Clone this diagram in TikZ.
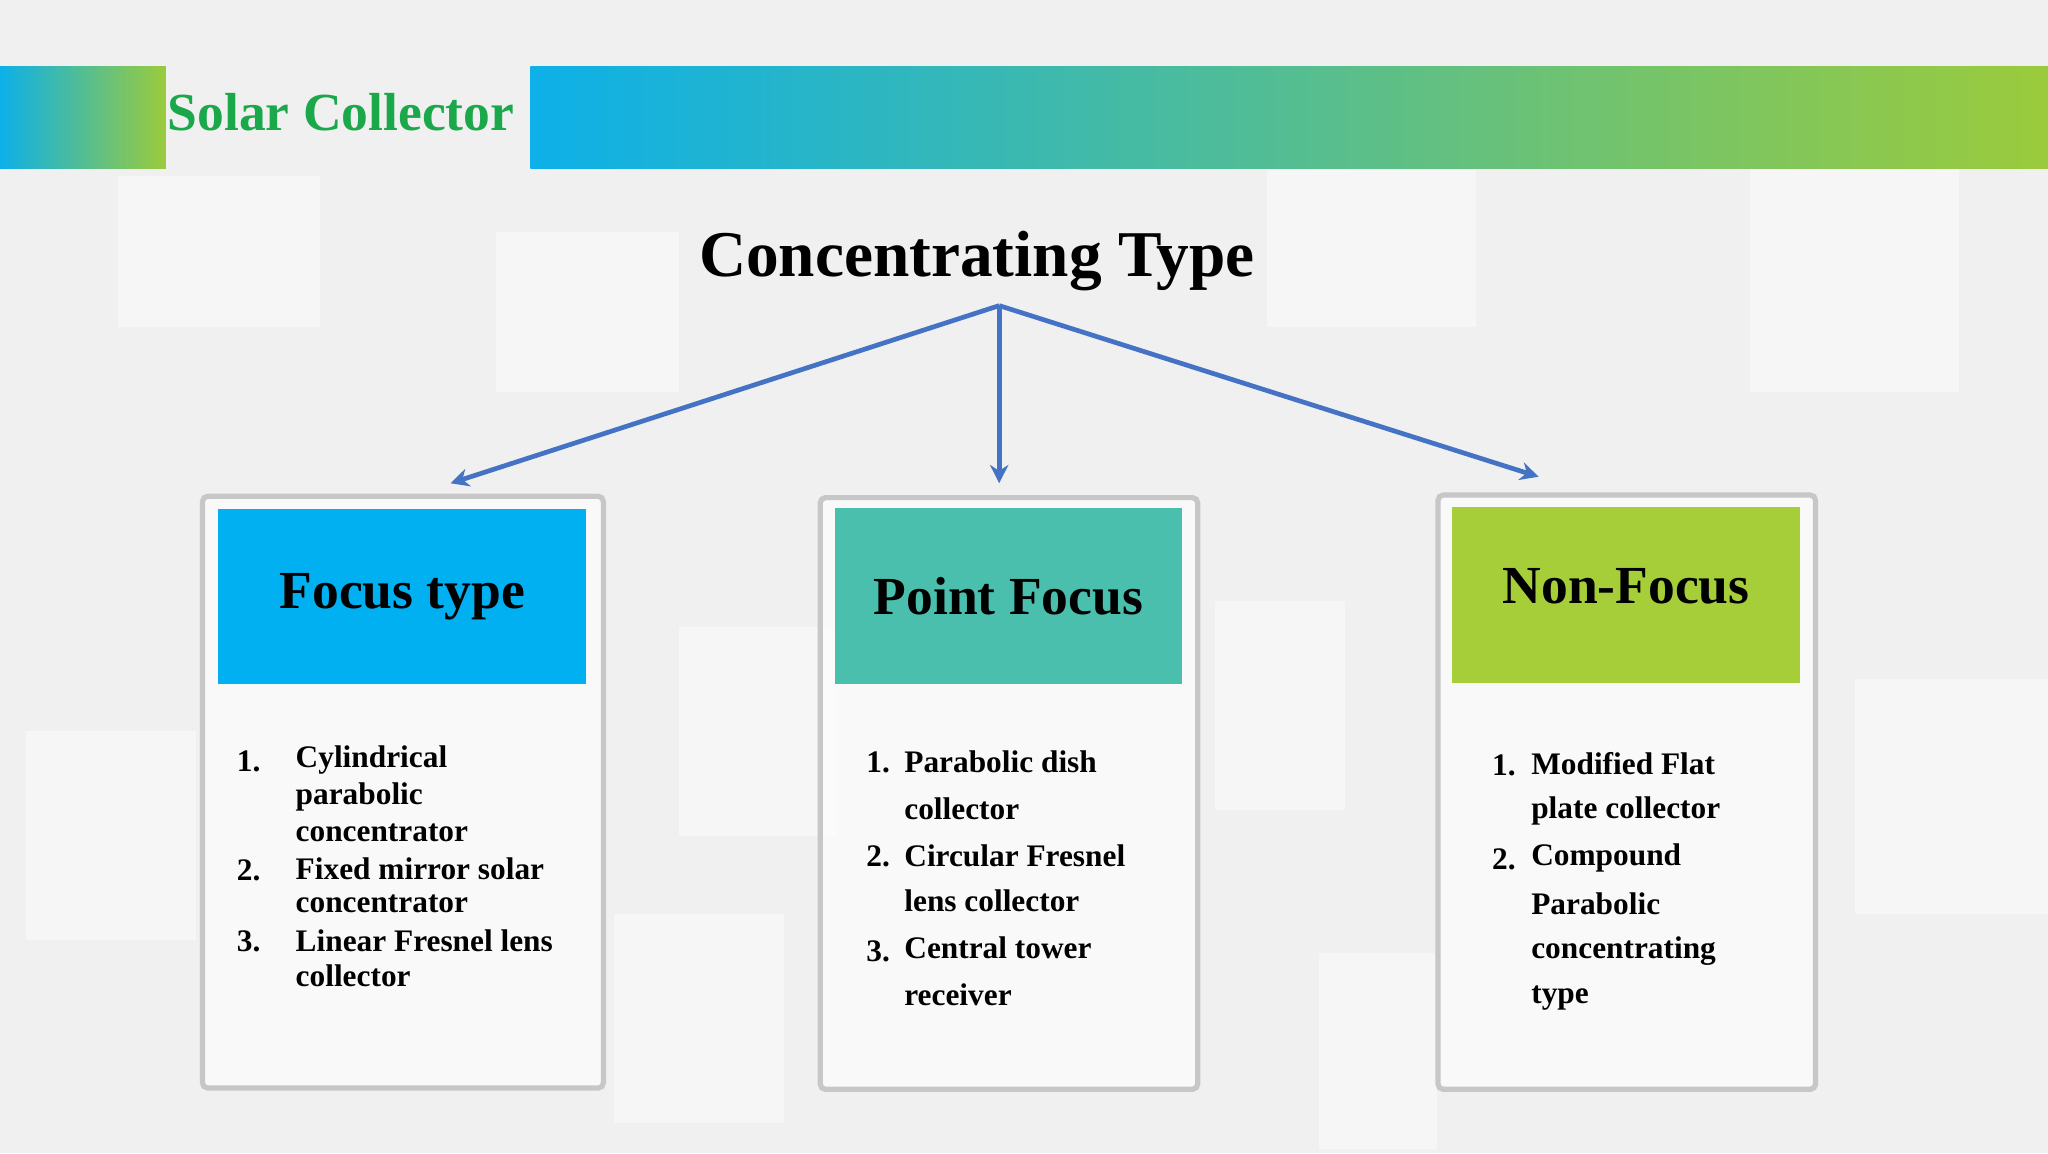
\documentclass[tikz,border=0pt]{standalone}
\usepackage{fontspec}
\setmainfont{Liberation Serif}
\usetikzlibrary{arrows.meta}
\definecolor{cyanA}{HTML}{0DB0E8}
\definecolor{greenA}{HTML}{9BCB3C}
\definecolor{boxA}{HTML}{00B0F0}
\definecolor{boxB}{HTML}{4BBFAD}
\definecolor{boxC}{HTML}{A6CE39}
\definecolor{arr}{HTML}{4472C4}
\definecolor{ttl}{HTML}{1AA84A}
\begin{document}
\begin{tikzpicture}[x=0.5pt,y=-0.5pt,
  frame/.style={draw=black!22,line width=2pt,fill=white,fill opacity=0.6,rounded corners=2pt},
  hdr/.style={font=\fontsize{20.5}{24}\selectfont\bfseries},
  itm/.style={anchor=west,inner sep=0pt,font=\fontsize{12}{14}\selectfont\bfseries},
  conn/.style={draw=arr,line width=1.8pt,-{Stealth[length=7pt,width=7pt]}}]
\useasboundingbox (0,0) rectangle (1568,883);
\fill[black!6] (0,0) rectangle (1568,883);
\foreach \a/\b/\c/\d in {90/135/245/250,380/178/520/300,970/130/1130/250,1340/120/1500/300,20/560/150/720,1420/520/1568/700,520/480/640/640,930/460/1030/620,470/700/600/860,1010/730/1100/880}
  \fill[white,opacity=0.45] (\a,\b) rectangle (\c,\d);
\shade[left color=cyanA,right color=greenA] (0,51) rectangle (127,129);
\shade[left color=cyanA,right color=greenA] (406,51) rectangle (1568,129);
\node[anchor=west,inner sep=0pt,text=ttl,font=\fontsize{20.5}{24}\selectfont\bfseries] (title) at (128,86) {Solar Collector};
\node[font=\fontsize{25}{30}\selectfont\bfseries,inner sep=0pt] (ct) at (748,200) {Concentrating Type};
\coordinate (src) at (765,234);
\draw[frame] (155,380) rectangle (462,833);
\draw[frame] (628,381) rectangle (917,834);
\draw[frame] (1101,379) rectangle (1390,834);
\node[fill=boxA,minimum width=141pt,minimum height=67pt,hdr] (fa) at (308,457) {\raisebox{-2pt}{Focus type}};
\node[fill=boxB,minimum width=133pt,minimum height=67.5pt,hdr] (fb) at (772,456.5) {\raisebox{-4pt}{Point Focus}};
\node[fill=boxC,minimum width=133pt,minimum height=67.5pt,hdr] (fc) at (1245,455.5) {\raisebox{7pt}{Non-Focus}};
\coordinate (ea) at (345,370);
\coordinate (eb) at (765,370);
\coordinate (ec) at (1178,365);
\draw[conn] (src) -- (ea);
\draw[conn] (src) -- (eb);
\draw[conn] (src) -- (ec);
% left list
\node[itm] (l1n) at (181,583) {1.};
\node[itm] (l1a) at (226,582) {Cylindrical};
\node[itm] (l1b) at (226,610) {parabolic};
\node[itm] (l1c) at (226,638) {concentrator};
\node[itm] (l2n) at (181,666) {2.};
\node[itm] (l2a) at (226,665) {Fixed mirror solar};
\node[itm] (l2b) at (226,692) {concentrator};
\node[itm] (l3n) at (181,721) {3.};
\node[itm] (l3a) at (226,720) {Linear Fresnel lens};
\node[itm] (l3b) at (226,747) {collector};
% middle list
\node[itm] (m1n) at (663,584) {1.};
\node[itm] (m1a) at (692,583) {Parabolic dish};
\node[itm] (m1b) at (692,619) {collector};
\node[itm] (m2n) at (663,656) {2.};
\node[itm] (m2a) at (692,655) {Circular Fresnel};
\node[itm] (m2b) at (692,690) {lens collector};
\node[itm] (m3n) at (663,728) {3.};
\node[itm] (m3a) at (692,726) {Central tower};
\node[itm] (m3b) at (692,762) {receiver};
% right list
\node[itm] (r1n) at (1142,586) {1.};
\node[itm] (r1a) at (1172,585) {Modified Flat};
\node[itm] (r1b) at (1172,621) {plate collector};
\node[itm] (r2n) at (1142,658) {2.};
\node[itm] (r2a) at (1172,657) {Compound};
\node[itm] (r2b) at (1172,692) {Parabolic};
\node[itm] (r2c) at (1172,728) {concentrating};
\node[itm] (r2d) at (1172,764) {type};
\end{tikzpicture}
\end{document}
